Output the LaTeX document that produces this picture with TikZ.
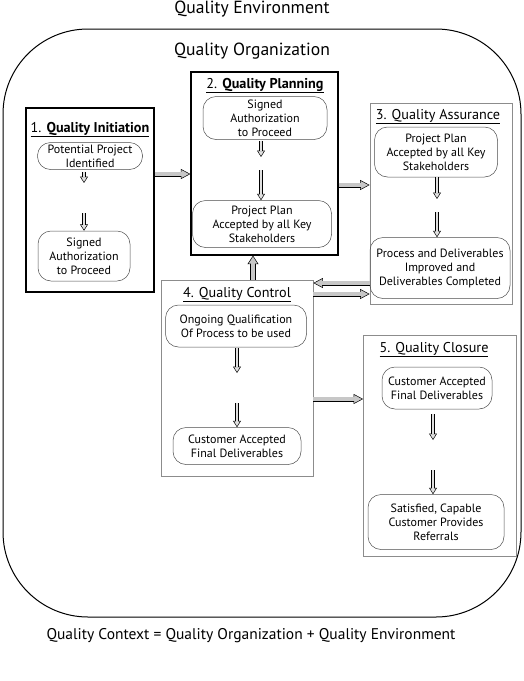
\documentclass[tikz,border=0pt]{standalone}
\usepackage{fontspec}
\setmainfont{PT Sans}
\usetikzlibrary{arrows.meta}
\definecolor{arrgray}{gray}{0.78}
\definecolor{lightarr}{gray}{0.88}
\definecolor{boxgray}{gray}{0.55}
\tikzset{
  x=1pt, y=-1pt,
  step box/.style={draw=black!70, line width=0.5pt, rounded corners=13pt, align=center,
    inner sep=0pt, font=\fontsize{12}{14}\selectfont},
  stitle/.style={font=\fontsize{14.2}{16}\selectfont, inner sep=0pt, anchor=base},
  bigtitle/.style={font=\fontsize{17.6}{20}\selectfont, inner sep=0pt, anchor=base},
  captiontext/.style={font=\fontsize{15.5}{18}\selectfont, inner sep=0pt, anchor=base},
  barrow/.style={draw=black, line width=5pt, shorten >=9pt,
    preaction={draw=black, line width=0.5pt, shorten >=0pt, -{Triangle[length=9.5pt,width=10pt,fill=arrgray]}},
    postaction={draw=arrgray, line width=3.6pt, shorten >=8.6pt}},
  marrow/.style={draw=black, line width=6pt, shorten >=8pt,
    preaction={draw=black, line width=0.5pt, shorten >=0pt, -{Triangle[length=8.5pt,width=11pt,fill=arrgray]}},
    postaction={draw=arrgray, line width=4.5pt, shorten >=7.6pt}},
  sarrow/.style={draw=black, line width=4pt, shorten >=6pt,
    preaction={draw=black, line width=0.5pt, shorten >=0pt, -{Triangle[length=6.5pt,width=8pt,fill=lightarr]}},
    postaction={draw=lightarr, line width=2.8pt, shorten >=5.6pt}},
}
\begin{document}
\begin{tikzpicture}
\useasboundingbox (0,0) rectangle (523,681);
% titles
\node[bigtitle] (env) at (252,13) {Quality Environment};
\draw[line width=1pt, rounded corners=85pt] (3,29) rectangle (521,617);
\node[bigtitle] (org) at (252,55) {Quality Organization};
\node[captiontext] (ctx) at (251,639) {Quality Context = Quality Organization + Quality Environment};

% stage boxes
\node[draw=black, line width=1.3pt, inner sep=0pt, minimum width=128pt, minimum height=184pt] (b1) at (90,200) {};
\node[draw=black, line width=1.3pt, inner sep=0pt, minimum width=147pt, minimum height=183pt] (b2) at (264.5,163.5) {};
\node[draw=boxgray, line width=0.8pt, inner sep=0pt, minimum width=142pt, minimum height=201pt] (b3) at (441,203.5) {};
\node[draw=boxgray, line width=0.8pt, inner sep=0pt, minimum width=152pt, minimum height=196pt] (b4) at (237,378) {};
\node[draw=boxgray, line width=0.8pt, inner sep=0pt, minimum width=153pt, minimum height=221pt] (b5) at (440,446) {};

% stage titles
\node[stitle] (t1) at (90,132) {\underline{1. \textbf{Quality Initiation}}};
\node[stitle] (t2) at (265,88) {\underline{2. \textbf{Quality Planning}}};
\node[stitle] (t3) at (438,119) {\underline{3. Quality Assurance}};
\node[stitle] (t4) at (237,297) {\underline{4. Quality Control}};
\node[stitle] (t5) at (434,352) {\underline{5. Quality Closure}};

% steps
\node[step box, minimum width=105pt, minimum height=27pt] (n11) at (90,156) {Potential Project\\Identified};
\node[step box, minimum width=92pt, minimum height=50pt] (n12) at (84,256) {Signed\\Authorization\\to Proceed};
\node[step box, minimum width=124pt, minimum height=43pt] (n21) at (265,118) {Signed\\Authorization\\to Proceed};
\node[step box, minimum width=139pt, minimum height=47pt] (n22) at (262,224) {Project Plan\\Accepted by all Key\\Stakeholders};
\node[step box, minimum width=123pt, minimum height=50pt] (n31) at (436,152) {Project Plan\\Accepted by all Key\\Stakeholders};
\node[step box, minimum width=140pt, minimum height=61pt] (n32) at (440,268) {Process and Deliverables\\Improved and\\Deliverables Completed};
\node[step box, minimum width=141pt, minimum height=42pt] (n41) at (236,326) {Ongoing Qualification\\Of Process to be used};
\node[step box, minimum width=128pt, minimum height=37pt] (n42) at (237,446) {Customer Accepted\\Final Deliverables};
\node[step box, minimum width=110pt, minimum height=42pt] (n51) at (437,388) {Customer Accepted\\Final Deliverables};
\node[step box, minimum width=136pt, minimum height=55pt] (n52) at (436,522) {Satisfied, Capable\\Customer Provides\\Referrals};

% in-box arrows (split in two pieces with a gap)
\coordinate (a11) at (84,183);
\coordinate (a12) at (84,213);
\draw[sarrow] ([yshift=-2pt]n11.south -| n12.north) -- (a11);
\draw[sarrow] (a12) -- (n12.north);
\coordinate (a21) at (261,157);
\coordinate (a22) at (261,170);
\draw[sarrow] ([yshift=-1pt]n21.south -| a21) -- (a21);
\draw[sarrow] (a22) -- (a22 |- n22.north);
\coordinate (a31) at (437,199);
\coordinate (a32) at (437,212);
\draw[sarrow] (n31.south -| a31) -- (a31);
\draw[sarrow] (a32) -- (a32 |- n32.north);
\coordinate (a41) at (237,373);
\coordinate (a42) at (237,403);
\draw[sarrow] ([yshift=-1pt]n41.south -| a41) -- (a41);
\draw[sarrow] (a42) -- (a42 |- n42.north);
\coordinate (a51) at (433,440);
\coordinate (a52) at (433,470);
\draw[sarrow] ([yshift=-5pt]n51.south -| a51) -- (a51);
\draw[sarrow] (a52) -- (a52 |- n52.north);

% arrows between stages
\draw[barrow] (b1.east |- 0,174) -- (b2.west |- 0,174);
\draw[barrow] (b2.east |- 0,185) -- (b3.west |- 0,185);
\draw[marrow] (b4.north -| 253,0) -- (b2.south -| 253,0);
\draw[barrow] (b3.west |- 0,283) -- (b4.east |- 0,283);
\draw[barrow] (b4.east |- 0,294) -- (b3.west |- 0,294);
\draw[barrow] (b4.east |- 0,399) -- (b5.west |- 0,399);
\end{tikzpicture}
\end{document}
